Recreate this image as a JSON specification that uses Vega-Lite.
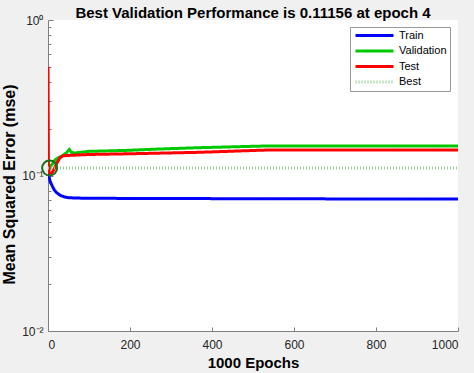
{
  "$schema": "https://vega.github.io/schema/vega-lite/v6.json",
  "width": 410,
  "height": 311,
  "autosize": {"type": "none"},
  "padding": {"left": 48, "top": 20, "right": 16, "bottom": 42},
  "background": "#f0f0f0",
  "view": {"fill": "white", "stroke": null},
  "title": {
    "text": "Best Validation Performance is 0.11156 at epoch 4",
    "font": "Liberation Sans",
    "fontSize": 15,
    "fontWeight": "bold",
    "color": "black",
    "offset": -7
  },
  "config": {
    "font": "Liberation Sans",
    "axis": {
      "domainColor": "#7f7f7f",
      "tickColor": "#7f7f7f",
      "labelColor": "#262626",
      "labelFont": "Liberation Sans",
      "labelFontSize": 12,
      "titleFont": "Liberation Sans",
      "titleFontWeight": "bold",
      "titleColor": "#000000",
      "grid": false
    }
  },
  "datasets": {
    "curves": [
      {"epoch": 0, "mse": 0.108, "series": "Train"},
      {"epoch": 2, "mse": 0.100, "series": "Train"},
      {"epoch": 5, "mse": 0.092, "series": "Train"},
      {"epoch": 10, "mse": 0.086, "series": "Train"},
      {"epoch": 15, "mse": 0.081, "series": "Train"},
      {"epoch": 20, "mse": 0.078, "series": "Train"},
      {"epoch": 30, "mse": 0.0745, "series": "Train"},
      {"epoch": 40, "mse": 0.0728, "series": "Train"},
      {"epoch": 50, "mse": 0.072, "series": "Train"},
      {"epoch": 70, "mse": 0.0716, "series": "Train"},
      {"epoch": 100, "mse": 0.0714, "series": "Train"},
      {"epoch": 200, "mse": 0.0712, "series": "Train"},
      {"epoch": 400, "mse": 0.071, "series": "Train"},
      {"epoch": 600, "mse": 0.0708, "series": "Train"},
      {"epoch": 1000, "mse": 0.0705, "series": "Train"},
      {"epoch": 0, "mse": 0.125, "series": "Validation"},
      {"epoch": 2, "mse": 0.116, "series": "Validation"},
      {"epoch": 4, "mse": 0.11156, "series": "Validation"},
      {"epoch": 7, "mse": 0.115, "series": "Validation"},
      {"epoch": 12, "mse": 0.120, "series": "Validation"},
      {"epoch": 17, "mse": 0.1256, "series": "Validation"},
      {"epoch": 25, "mse": 0.130, "series": "Validation"},
      {"epoch": 35, "mse": 0.134, "series": "Validation"},
      {"epoch": 45, "mse": 0.140, "series": "Validation"},
      {"epoch": 52, "mse": 0.147, "series": "Validation"},
      {"epoch": 57, "mse": 0.141, "series": "Validation"},
      {"epoch": 65, "mse": 0.1395, "series": "Validation"},
      {"epoch": 100, "mse": 0.143, "series": "Validation"},
      {"epoch": 190, "mse": 0.145, "series": "Validation"},
      {"epoch": 270, "mse": 0.148, "series": "Validation"},
      {"epoch": 370, "mse": 0.151, "series": "Validation"},
      {"epoch": 540, "mse": 0.155, "series": "Validation"},
      {"epoch": 1000, "mse": 0.155, "series": "Validation"},
      {"epoch": 0, "mse": 0.5, "series": "Test"},
      {"epoch": 1, "mse": 0.12, "series": "Test"},
      {"epoch": 3, "mse": 0.104, "series": "Test"},
      {"epoch": 9, "mse": 0.103, "series": "Test"},
      {"epoch": 15, "mse": 0.110, "series": "Test"},
      {"epoch": 20, "mse": 0.118, "series": "Test"},
      {"epoch": 29, "mse": 0.130, "series": "Test"},
      {"epoch": 37, "mse": 0.134, "series": "Test"},
      {"epoch": 60, "mse": 0.135, "series": "Test"},
      {"epoch": 100, "mse": 0.1365, "series": "Test"},
      {"epoch": 200, "mse": 0.138, "series": "Test"},
      {"epoch": 370, "mse": 0.141, "series": "Test"},
      {"epoch": 540, "mse": 0.146, "series": "Test"},
      {"epoch": 1000, "mse": 0.146, "series": "Test"},
      {"epoch": 0, "mse": 0.11156, "series": "Best"},
      {"epoch": 1000, "mse": 0.11156, "series": "Best"}
    ],
    "best": [
      {"epoch": 4, "mse": 0.11156}
    ]
  },
  "layer": [
    {
      "data": {"name": "curves"},
      "mark": {"type": "line", "clip": true},
      "encoding": {
        "x": {
          "field": "epoch",
          "type": "quantitative",
          "scale": {"domain": [0, 1000], "nice": false},
          "axis": {
            "title": "1000 Epochs",
            "titleFontSize": 15,
            "values": [0, 200, 400, 600, 800, 1000],
            "format": "d",
            "tickSize": -4,
            "labelPadding": 12,
            "titlePadding": 5
          }
        },
        "y": {
          "field": "mse",
          "type": "quantitative",
          "scale": {"type": "log", "domain": [0.01, 1], "nice": false},
          "axis": {
            "title": "Mean Squared Error  (mse)",
            "titleFontSize": 16,
            "titleX": -39,
            "titleY": 164,
            "titleAngle": 270,
            "titleAlign": "center",
            "titleBaseline": "middle",
            "values": [0.01, 0.02, 0.03, 0.04, 0.05, 0.06, 0.07, 0.08, 0.09, 0.1, 0.2, 0.3, 0.4, 0.5, 0.6, 0.7, 0.8, 0.9, 1],
            "labelExpr": "datum.value == 1 ? '10⁰' : (datum.value == 0.1 ? '10⁻¹' : (datum.value == 0.01 ? '10⁻²' : ''))",
            "labelOverlap": false,
            "tickSize": {"condition": {"test": "datum.value == 1 || datum.value == 0.1 || datum.value == 0.01", "value": -5}, "value": -3},
            "labelPadding": 10
          }
        },
        "color": {
          "field": "series",
          "type": "nominal",
          "scale": {
            "domain": ["Train", "Validation", "Test", "Best"],
            "range": ["#0000ff", "#00c800", "#ff0000", "#8fd08f"]
          },
          "sort": ["Train", "Validation", "Test", "Best"],
          "legend": {
            "title": null,
            "orient": "none",
            "legendX": 302,
            "legendY": 7,
            "symbolType": "M-1,0H11.67",
            "symbolSize": 36,
            "labelFont": "Liberation Sans",
            "labelFontSize": 11,
            "labelColor": "#000000",
            "fillColor": "white",
            "strokeColor": "#999999",
            "padding": 3,
            "labelOffset": 35,
            "rowPadding": 2.5
          }
        },
        "strokeWidth": {
          "field": "series",
          "type": "nominal",
          "scale": {"domain": ["Train", "Validation", "Test", "Best"], "range": [3, 3, 3, 0.8]}
        },
        "strokeDash": {
          "field": "series",
          "type": "nominal",
          "scale": {"domain": ["Train", "Validation", "Test", "Best"], "range": [[1, 0], [1, 0], [1, 0], [1, 2]]}
        }
      }
    },
    {
      "data": {"name": "best"},
      "mark": {"type": "point", "shape": "circle", "filled": false, "color": "#1a6e1a", "opacity": 1, "size": 225, "strokeWidth": 2},
      "encoding": {
        "x": {"field": "epoch", "type": "quantitative"},
        "y": {"field": "mse", "type": "quantitative"}
      }
    }
  ]
}
